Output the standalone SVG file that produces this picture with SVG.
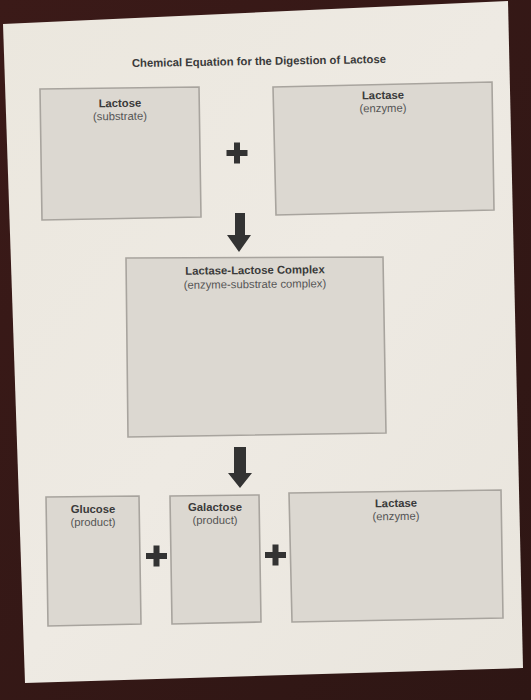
<svg xmlns="http://www.w3.org/2000/svg" width="531" height="700" viewBox="0 0 531 700">
<defs>
<style>
.box{fill:#dcd8d1;stroke:#a8a49e;stroke-width:1.6}
.t{font-family:"Liberation Sans",Arial,sans-serif;font-size:11.3px;font-weight:bold;fill:#3a3a3a;text-anchor:middle}
.s{font-family:"Liberation Sans",Arial,sans-serif;font-size:11.3px;fill:#555;text-anchor:middle}
.op{fill:#333}
</style>
<linearGradient id="bg" x1="0" y1="0" x2="1" y2="1">
<stop offset="0" stop-color="#3b1a18"/>
<stop offset="1" stop-color="#2e1614"/>
</linearGradient>
<linearGradient id="paper" x1="0" y1="0" x2="1" y2="1">
<stop offset="0" stop-color="#ebe7de"/>
<stop offset="0.5" stop-color="#eeeae3"/>
<stop offset="1" stop-color="#e9e5dd"/>
</linearGradient>
</defs>
<rect width="531" height="700" fill="url(#bg)"/>
<polygon points="3,24 508,1 523,668 25,683" fill="url(#paper)"/>
<text class="t" x="259" y="65" font-size="12" transform="rotate(-0.9 259 65)">Chemical Equation for the Digestion of Lactose</text>
<g id="lactose">
<polygon class="box" points="40,89 199,87 201,217 42,220"/>
<text class="t" x="120" y="107" transform="rotate(-0.8 120 107)">Lactose</text>
<text class="s" x="120" y="120" transform="rotate(-0.8 120 120)">(substrate)</text>
</g>
<g id="lactase-top">
<polygon class="box" points="273,87 492,82 494,210 276,215"/>
<text class="t" x="383" y="99" transform="rotate(-0.8 383 99)">Lactase</text>
<text class="s" x="383" y="112" transform="rotate(-0.8 383 112)">(enzyme)</text>
</g>
<g id="complex">
<polygon class="box" points="126,258 383,257 386,433 128,437"/>
<text class="t" x="255" y="274" font-size="12" transform="rotate(-0.6 255 274)">Lactase-Lactose Complex</text>
<text class="s" x="255" y="288" font-size="12" transform="rotate(-0.6 255 288)">(enzyme-substrate complex)</text>
</g>
<g id="glucose">
<polygon class="box" points="46,497 139,496 141,624 48,626"/>
<text class="t" x="93" y="513">Glucose</text>
<text class="s" x="93" y="526">(product)</text>
</g>
<g id="galactose">
<polygon class="box" points="170,496 259,495 261,622 172,624"/>
<text class="t" x="215" y="511">Galactose</text>
<text class="s" x="215" y="524">(product)</text>
</g>
<g id="lactase-bottom">
<polygon class="box" points="289,493 501,490 503,618 292,622"/>
<text class="t" x="396" y="507" transform="rotate(-0.8 396 507)">Lactase</text>
<text class="s" x="396" y="520" transform="rotate(-0.8 396 520)">(enzyme)</text>
</g>
<g id="connectors">
<path class="op" d="M-10.5,-3 h7.5 v-7.5 h6 v7.5 h7.5 v6 h-7.5 v7.5 h-6 v-7.5 h-7.5 z" transform="translate(237,153)"/>
<path class="op" d="M235,213 h10 v22 h6 l-12,17 l-12,-17 h8 z"/>
<path class="op" d="M234,447 h12 v26 h6 l-12,15 l-12,-15 h6 z"/>
<path class="op" d="M-10.5,-3 h7.5 v-7.5 h6 v7.5 h7.5 v6 h-7.5 v7.5 h-6 v-7.5 h-7.5 z" transform="translate(156.5,556)"/>
<path class="op" d="M-10.5,-3 h7.5 v-7.5 h6 v7.5 h7.5 v6 h-7.5 v7.5 h-6 v-7.5 h-7.5 z" transform="translate(275.5,555)"/>
</g>
</svg>
